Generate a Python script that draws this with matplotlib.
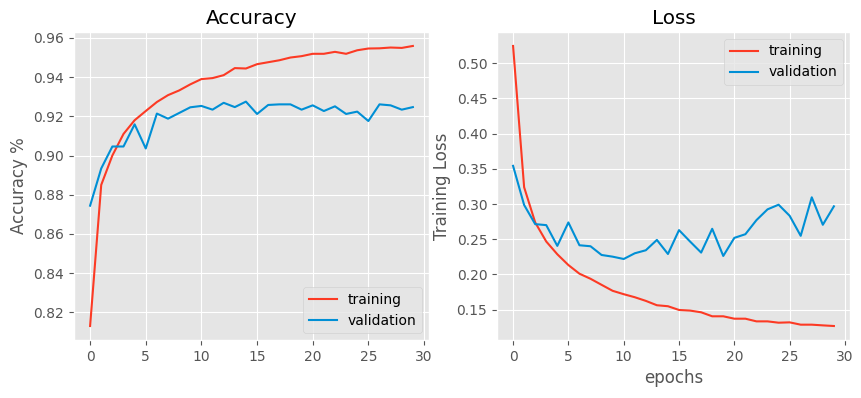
import matplotlib
matplotlib.use("Agg")
import matplotlib.pyplot as plt

plt.style.use("ggplot")

epochs = list(range(30))
train_acc = [0.813, 0.885, 0.900, 0.911, 0.918, 0.9227, 0.9273, 0.9308, 0.9332, 0.9363,
             0.939, 0.9395, 0.941, 0.9446, 0.9444, 0.9466, 0.9476, 0.9486, 0.950, 0.9507,
             0.9519, 0.9519, 0.9529, 0.9519, 0.9537, 0.9546, 0.9547, 0.9551, 0.9549, 0.9559]
val_acc = [0.8744, 0.8934, 0.9046, 0.9046, 0.9159, 0.9036, 0.9214, 0.9188, 0.9217, 0.9246,
           0.9253, 0.9234, 0.9269, 0.9247, 0.9275, 0.9212, 0.9258, 0.9261, 0.9261, 0.9234,
           0.9256, 0.9227, 0.9251, 0.9212, 0.9224, 0.9176, 0.9261, 0.9256, 0.9234, 0.9247]
train_loss = [0.5245, 0.3238, 0.2738, 0.2467, 0.2286, 0.2133, 0.201, 0.1938, 0.1852, 0.1767,
              0.1719, 0.1676, 0.1624, 0.1562, 0.1548, 0.1495, 0.1486, 0.1462, 0.1405, 0.1405,
              0.1371, 0.1371, 0.1333, 0.1333, 0.1314, 0.1319, 0.1286, 0.1286, 0.1276, 0.1267]
val_loss = [0.3542, 0.2986, 0.2714, 0.270, 0.2405, 0.2738, 0.2414, 0.240, 0.2276, 0.2252,
            0.2219, 0.230, 0.2343, 0.249, 0.229, 0.2629, 0.2467, 0.231, 0.2648, 0.2262,
            0.2519, 0.2571, 0.2771, 0.2924, 0.299, 0.2833, 0.2548, 0.3095, 0.2705, 0.2967]

RED = "#fc3a24"
BLUE = "#008fd5"

fig = plt.figure(figsize=(8.62, 3.98), dpi=100)
ax1 = fig.add_axes([0.0858, 0.1457, 0.4119, 0.774])
ax2 = fig.add_axes([0.5766, 0.1457, 0.4094, 0.774])

ax1.plot(epochs, train_acc, color=RED, label="training")
ax1.plot(epochs, val_acc, color=BLUE, label="validation")
ax1.set_title("Accuracy")
ax1.set_ylabel("Accuracy %")
ax1.legend(loc="lower right")

ax2.plot(epochs, train_loss, color=RED, label="training")
ax2.plot(epochs, val_loss, color=BLUE, label="validation")
ax2.set_title("Loss")
ax2.set_ylabel("Training Loss")
ax2.set_xlabel("epochs")
ax2.legend(loc="upper right")

fig.savefig("out.png", dpi=100)
